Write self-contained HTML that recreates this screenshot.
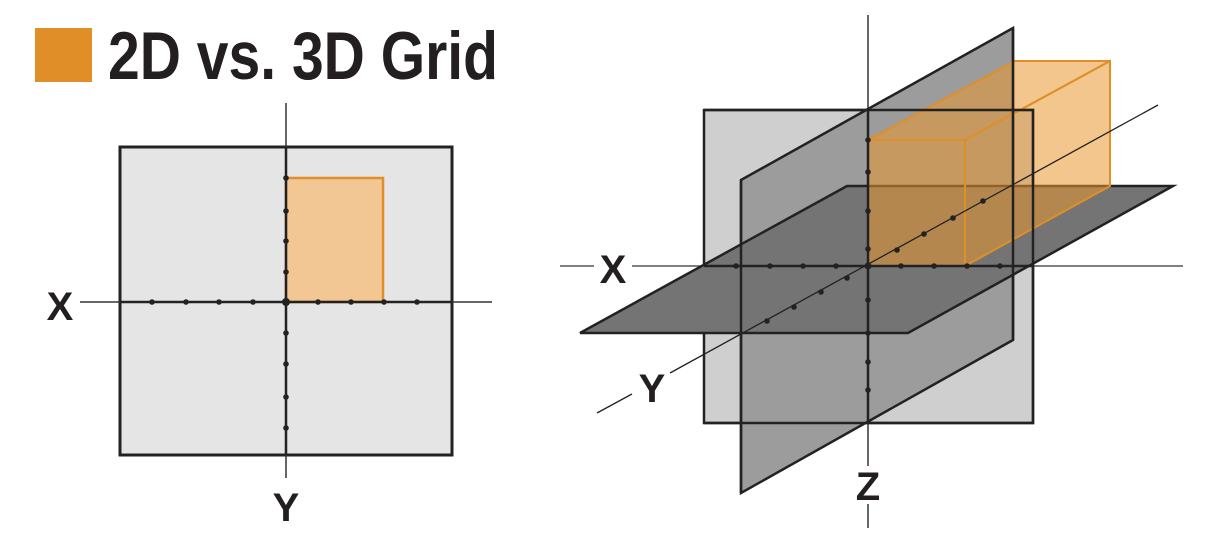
<!DOCTYPE html>
<html><head><meta charset="utf-8"><style>
body{margin:0;background:#fff;width:1228px;height:544px;overflow:hidden}
svg text{font-family:"Liberation Sans Narrow","Liberation Sans",sans-serif;font-weight:bold;fill:#231f20}
</style></head><body>
<svg width="1228" height="544" viewBox="0 0 1228 544">
<rect x="35" y="28" width="57" height="54" fill="#e08e28"/>
<text x="108" y="79" font-size="68" textLength="390" lengthAdjust="spacingAndGlyphs">2D vs. 3D Grid</text>

<!-- 2D -->
<rect x="120" y="147" width="332" height="308" fill="#e5e5e5" stroke="#222" stroke-width="3"/>
<rect x="286" y="178" width="97" height="124" fill="#f3c794" stroke="#e08e28" stroke-width="2.5"/>
<line x1="80" y1="302" x2="492" y2="302" stroke="#333" stroke-width="1.5"/>
<line x1="286" y1="103" x2="286" y2="478" stroke="#333" stroke-width="1.5"/>
<line x1="120" y1="302" x2="452" y2="302" stroke="#222" stroke-width="2.5"/>
<line x1="286" y1="147" x2="286" y2="455" stroke="#222" stroke-width="2.5"/>
<g fill="#222">
<circle cx="152" cy="302" r="2.8"/><circle cx="186" cy="302" r="2.8"/><circle cx="219" cy="302" r="2.8"/><circle cx="253" cy="302" r="2.8"/><circle cx="286" cy="302" r="4"/><circle cx="318" cy="302" r="2.8"/><circle cx="351" cy="302" r="2.8"/><circle cx="384" cy="302" r="2.8"/><circle cx="417" cy="302" r="2.8"/>
<circle cx="286" cy="178" r="2.8"/><circle cx="286" cy="211" r="2.8"/><circle cx="286" cy="241" r="2.8"/><circle cx="286" cy="272" r="2.8"/>
<circle cx="286" cy="333" r="2.8"/><circle cx="286" cy="364" r="2.8"/><circle cx="286" cy="397" r="2.8"/><circle cx="286" cy="428" r="2.8"/>
</g>
<rect x="44" y="282" width="36" height="40" fill="#fff"/>
<text x="60" y="320" font-size="40" text-anchor="middle">X</text>
<text x="286" y="521" font-size="40" text-anchor="middle">Y</text>

<!-- 3D -->
<line x1="868" y1="15" x2="868" y2="528" stroke="#333" stroke-width="1.5"/>
<line x1="560" y1="266" x2="1183" y2="266" stroke="#555" stroke-width="1.5"/>
<rect x="704" y="110" width="329" height="313" fill="#cfcfcf" stroke="#222" stroke-width="2.5"/>
<polygon points="741,180 1013,28 1013,340 741,493" fill="#9c9c9c" stroke="#222" stroke-width="2.5"/>
<polygon points="580,333 908,333 1173,186 847,186" fill="#747474" stroke="#222" stroke-width="2.5"/>
<g fill="#e8982f" fill-opacity="0.55" stroke="#e08e28" stroke-width="2">
<polygon points="868,140 1015,61 1110,61 965,140"/>
<polygon points="965,140 1110,61 1110,186 965,266"/>
<rect x="868" y="140" width="97" height="126"/>
</g>
<g stroke="#222" stroke-width="2.5" fill="none">
<line x1="704" y1="266" x2="1033" y2="266"/>
<line x1="868" y1="110" x2="868" y2="423"/>
<polyline points="704,110 1033,110 1033,423 704,423"/>
<line x1="741" y1="180" x2="741" y2="493"/>
<line x1="1013" y1="28" x2="1013" y2="340"/>
</g>
<line x1="597" y1="413" x2="632" y2="394" stroke="#222" stroke-width="1.3"/>
<line x1="670" y1="373" x2="1158" y2="105" stroke="#222" stroke-width="1.3"/>
<g fill="#222">
<circle cx="736" cy="266" r="2.8"/><circle cx="770" cy="266" r="2.8"/><circle cx="803" cy="266" r="2.8"/><circle cx="836" cy="266" r="2.8"/><circle cx="868" cy="266" r="3.5"/><circle cx="901" cy="266" r="2.8"/><circle cx="934" cy="266" r="2.8"/><circle cx="967" cy="266" r="2.8"/><circle cx="1000" cy="266" r="2.8"/>
<circle cx="868" cy="172" r="2.8"/><circle cx="868" cy="211" r="2.8"/><circle cx="868" cy="249" r="2.8"/><circle cx="868" cy="140" r="2.8"/>
<circle cx="868" cy="300" r="2.8"/><circle cx="868" cy="333" r="2.8"/><circle cx="868" cy="362" r="2.8"/><circle cx="868" cy="390" r="2.8"/>
<circle cx="847" cy="278" r="2.8"/><circle cx="821" cy="292" r="2.8"/><circle cx="794" cy="307" r="2.8"/><circle cx="767" cy="321" r="2.8"/>
<circle cx="897" cy="250" r="2.8"/><circle cx="924" cy="234" r="2.8"/><circle cx="953" cy="218" r="2.8"/><circle cx="983" cy="201" r="2.8"/>
</g>
<rect x="594" y="248" width="38" height="36" fill="#fff"/>
<text x="613" y="283" font-size="40" text-anchor="middle">X</text>
<text x="652" y="402" font-size="40" text-anchor="middle">Y</text>
<rect x="850" y="466" width="36" height="38" fill="#fff"/>
<text x="868" y="500" font-size="40" text-anchor="middle">Z</text>
</svg>
</body></html>
